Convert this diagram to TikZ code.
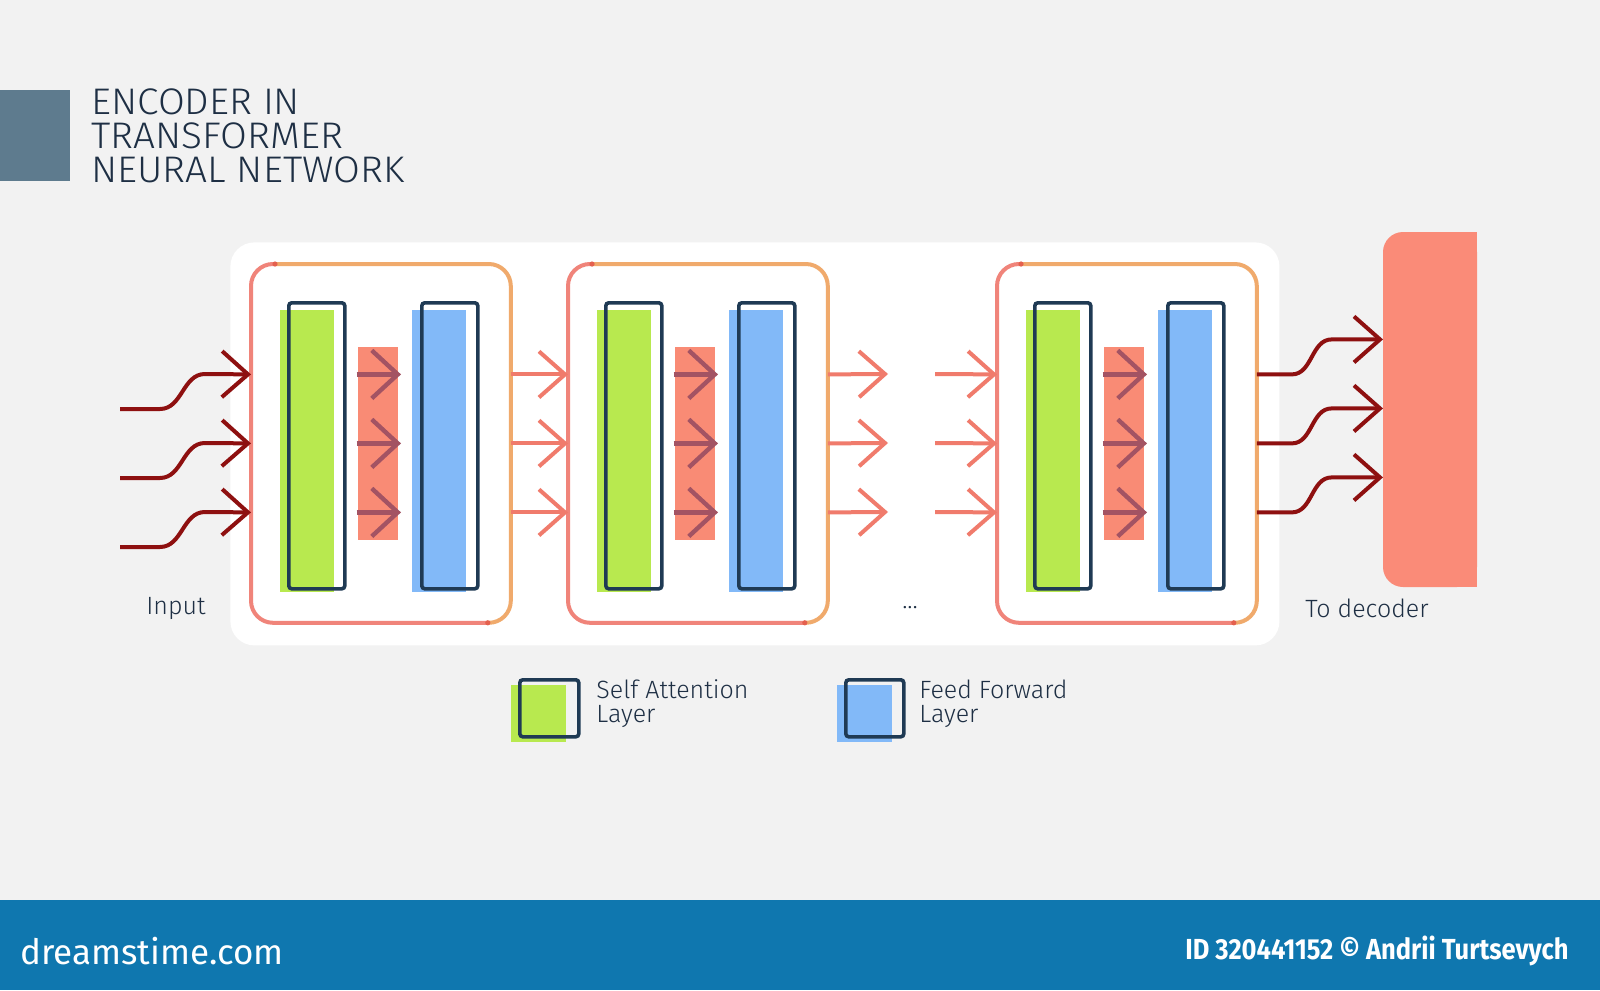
\documentclass[tikz,border=0pt]{standalone}
\usepackage{fontspec}
\setmainfont{Fira Sans}
\newfontfamily\thinfont{Fira Sans Light}
\newfontfamily\titlefont{Fira Sans Light}[FakeStretch=1.05]
\usetikzlibrary{arrows.meta,calc,positioning}

\definecolor{bgcol}{HTML}{F2F2F2}
\definecolor{barblue}{HTML}{0F77AF}
\definecolor{titlesq}{HTML}{5E7B8E}
\definecolor{navy}{HTML}{1E2F44}
\definecolor{frame}{HTML}{1F3A54}
\definecolor{salmonline}{HTML}{F0847A}
\definecolor{orangeline}{HTML}{F0AA6C}
\definecolor{joindot}{HTML}{E4604E}
\definecolor{greenfill}{HTML}{B8E94F}
\definecolor{bluefill}{HTML}{82B9F8}
\definecolor{redfill}{HTML}{F98B75}
\definecolor{darkred}{HTML}{8E1010}
\definecolor{innerred}{HTML}{A35363}
\definecolor{lightred}{HTML}{F07B6C}
\definecolor{decfill}{HTML}{FA8B78}

\tikzset{
  encbox/.style={rectangle, minimum width=129.5pt, minimum height=179pt, inner sep=0pt, anchor=north west},
  layerfill/.style={rectangle, fill=#1, minimum width=27pt, minimum height=141pt, inner sep=0pt, anchor=north west},
  layerframe/.style={rectangle, draw=frame, line width=1.8pt, rounded corners=1.5pt, minimum width=28pt, minimum height=143pt, inner sep=0pt, anchor=north west},
  passbox/.style={rectangle, fill=redfill, minimum width=20pt, minimum height=96.5pt, inner sep=0pt, anchor=north west},
  darkarrow/.style={draw=darkred, line width=2pt, -{Straight Barb[length=13pt,width=23pt]}},
  lightarrow/.style={draw=lightred, line width=2pt, -{Straight Barb[length=13pt,width=23pt]}},
  innerarrow/.style={draw=innerred, line width=2.2pt, -{Straight Barb[length=13pt,width=24pt]}},
  labeltext/.style={text=navy, inner sep=0pt, font=\thinfont\fontsize{12.5}{12}\selectfont},
  titletext/.style={text=navy, inner sep=0pt, anchor=base west, font=\titlefont\fontsize{18.5}{18}\selectfont},
}

\begin{document}
\begin{tikzpicture}[x=0.5pt,y=-0.5pt]
  \fill[bgcol] (0,0) rectangle (1600,990);
  \useasboundingbox (0,0) rectangle (1600,990);

  % title
  \fill[titlesq] (0,90) rectangle (70,181);
  \node[titletext] (title1) at (91,115) {ENCODER IN};
  \node[titletext] (title2) at (91,148.5) {TRANSFORMER};
  \node[titletext] (title3) at (91,182) {NEURAL NETWORK};

  % white panel and decoder
  \node[rectangle, fill=white, rounded corners=12pt, minimum width=524.5pt, minimum height=201.5pt, anchor=north west] (panel) at (230,242) {};
  \node[rectangle, fill=decfill, rounded corners=10pt, outer sep=0pt, minimum width=47pt, minimum height=177.5pt, anchor=north west] (dec) at (1383,232) {};
  \fill[decfill] (dec.north) rectangle (dec.south east);

  % encoder blocks
  \foreach \bx/\i in {251/1,568/2,997/3}{
    \node[encbox] (enc\i) at (\bx,264) {};
    \draw[salmonline, line width=2pt, rounded corners=11pt] ($(enc\i.south east)+(-23,0)$) -- (enc\i.south west) -- (enc\i.north west) -- ($(enc\i.north west)+(24,0)$);
    \draw[orangeline, line width=2pt, rounded corners=11pt] ($(enc\i.north west)+(24,0)$) -- (enc\i.north east) -- (enc\i.south east) -- ($(enc\i.south east)+(-23,0)$);
    \fill[joindot] ($(enc\i.north west)+(24,0)$) circle (1.3pt);
    \fill[joindot] ($(enc\i.south east)+(-23,0)$) circle (1.3pt);

    \node[layerfill=greenfill] (sa\i) at (\bx+29,310) {};
    \node[layerframe] (saf\i) at (\bx+36,301) {};
    \node[passbox] (pass\i) at (\bx+107,347) {};
    \node[layerfill=bluefill] (ff\i) at (\bx+161,310) {};
    \node[layerframe] (fff\i) at (\bx+169,301) {};
    \foreach \o in {-69,0,69}
      \draw[innerarrow] ($(saf\i.east |- enc\i.west)+(10,\o)$) -- ($(fff\i.west |- enc\i.west)+(-19,\o)$);
  }

  % connectors
  \coordinate (inp) at (120,443);
  \coordinate (gapl) at (888,443);
  \coordinate (gapr) at (935,443);
  \foreach \o in {-69,0,69}{
    \draw[darkarrow] ($(inp)+(0,\o+35)$) -- ++(40,0) to[out=0,in=180] ++(45,-35) -- ($(enc1.west)+(0,\o)$);
    \draw[lightarrow] ($(enc1.east)+(0,\o)$) -- ($(enc2.west)+(0,\o)$);
    \draw[lightarrow] ($(enc2.east)+(0,\o)$) -- ($(gapl)+(0,\o)$);
    \draw[lightarrow] ($(gapr)+(0,\o)$) -- ($(enc3.west)+(0,\o)$);
    \draw[darkarrow] ($(enc3.east)+(0,\o)$) -- ++(35,0) to[out=0,in=180] ++(40,-35) -- ($(dec.west |- enc3.east)+(0,\o-35)$);
  }

  \node[labeltext] (inlabel) at (176,608) {Input};
  \node[labeltext] (dots) at (910,608) {...};
  \node[labeltext] (outlabel) at (1367,608) {To decoder};

  % legend
  \node[layerfill=greenfill, minimum width=27.5pt, minimum height=28.5pt] (lgsa) at (511,685) {};
  \node[layerframe, minimum width=29.5pt, minimum height=28.5pt] (lgsaf) at (518,678) {};
  \node[labeltext, anchor=west, align=left] (lgsatext) at (596,704) {Self Attention\\Layer};
  \node[layerfill=bluefill, minimum width=27.5pt, minimum height=28.5pt] (lgff) at (837,685) {};
  \node[layerframe, minimum width=29pt, minimum height=28.5pt] (lgfff) at (844,678) {};
  \node[labeltext, anchor=west, align=left] (lgfftext) at (919,704) {Feed Forward\\Layer};

  % bottom bar
  \node[rectangle, fill=barblue, minimum width=800pt, minimum height=45pt, inner sep=0pt, anchor=north west] (bar) at (0,900) {};
  \node[text=white, inner sep=0pt, anchor=west, font=\fontsize{17.5}{17.5}\selectfont] (logo) at (20,951) {dreamstime.com};
  \node[text=white, inner sep=0pt, anchor=east, font=\bfseries\fontsize{14.5}{14.5}\selectfont] (credit) at (1569,951) {\scalebox{0.88}[1]{ID 320441152 © Andrii Turtsevych}};
\end{tikzpicture}
\end{document}
